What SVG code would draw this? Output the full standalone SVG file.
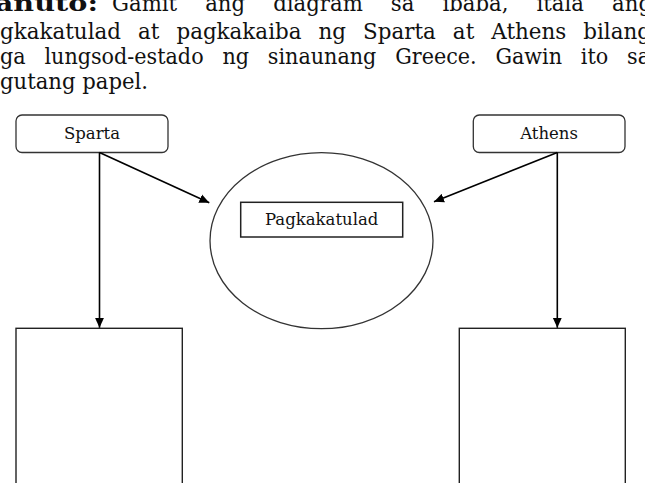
<svg xmlns="http://www.w3.org/2000/svg" width="645" height="483" viewBox="0 0 645 483">
  <style>
    .para { font-family: "DejaVu Serif", "Liberation Serif", serif; font-size: 22px; fill: #111; }
    .bold { font-weight: bold; }
    .label { font-family: "DejaVu Serif", "Liberation Serif", serif; font-size: 16.5px; fill: #111; text-anchor: middle; }
    .rbox { fill: #fff; stroke: #333; stroke-width: 1.3; }
    .box { fill: #fff; stroke: #222; stroke-width: 1.4; }
    .oval { fill: #fff; stroke: #333; stroke-width: 1.3; }
    .conn { fill: none; stroke: #000; stroke-width: 1.6; }
  </style>
  <defs>
    <marker id="arrow" viewBox="0 0 10 10" refX="10" refY="5" markerWidth="10" markerHeight="10" markerUnits="userSpaceOnUse" orient="auto">
      <path d="M0,0.5 L10,5 L0,9.5 Z" fill="#000"/>
    </marker>
  </defs>
  <rect width="645" height="483" fill="#fff"/>

  <g id="instructions">
    <text class="para bold" x="-26" y="10.5" textLength="124" lengthAdjust="spacingAndGlyphs">Panuto:</text>
    <text class="para" x="112" y="10.5" word-spacing="22" textLength="540" lengthAdjust="spacingAndGlyphs">Gamit ang diagram sa ibaba, itala ang</text>
    <text class="para" x="0" y="38.5" word-spacing="10.5" textLength="651" lengthAdjust="spacingAndGlyphs">gkakatulad at pagkakaiba ng Sparta at Athens bilang</text>
    <text class="para" x="0" y="64" word-spacing="13" textLength="650" lengthAdjust="spacingAndGlyphs">ga lungsod-estado ng sinaunang Greece. Gawin ito sa</text>
    <text class="para" x="0" y="89" textLength="148" lengthAdjust="spacingAndGlyphs">gutang papel.</text>
  </g>

  <g id="node-left-box">
    <rect class="box" x="16" y="328.3" width="166.3" height="180"/>
  </g>
  <g id="node-right-box">
    <rect class="box" x="459.3" y="328.3" width="166" height="180"/>
  </g>

  <g id="node-pagkakatulad">
    <ellipse class="oval" cx="321.5" cy="240.7" rx="111.5" ry="88"/>
    <rect x="240.7" y="202.3" width="162" height="34.7" fill="#fff" stroke="#222" stroke-width="1.5"/>
    <text class="label" x="321.7" y="225">Pagkakatulad</text>
  </g>

  <g id="node-sparta">
    <rect class="rbox" x="16" y="115" width="152" height="37.5" rx="6"/>
    <text class="label" x="92" y="139">Sparta</text>
  </g>

  <g id="node-athens">
    <rect class="rbox" x="473.3" y="115" width="151.7" height="37.5" rx="6"/>
    <text class="label" x="549" y="139">Athens</text>
  </g>

  <g id="connectors">
    <path class="conn" d="M99.5,152.5 L209.3,202.7" marker-end="url(#arrow)"/>
    <path class="conn" d="M99.5,152.5 L99.5,327.8" marker-end="url(#arrow)"/>
    <path class="conn" d="M557.3,152.5 L434,201.7" marker-end="url(#arrow)"/>
    <path class="conn" d="M557.3,152.5 L557.3,327.8" marker-end="url(#arrow)"/>
  </g>
</svg>
